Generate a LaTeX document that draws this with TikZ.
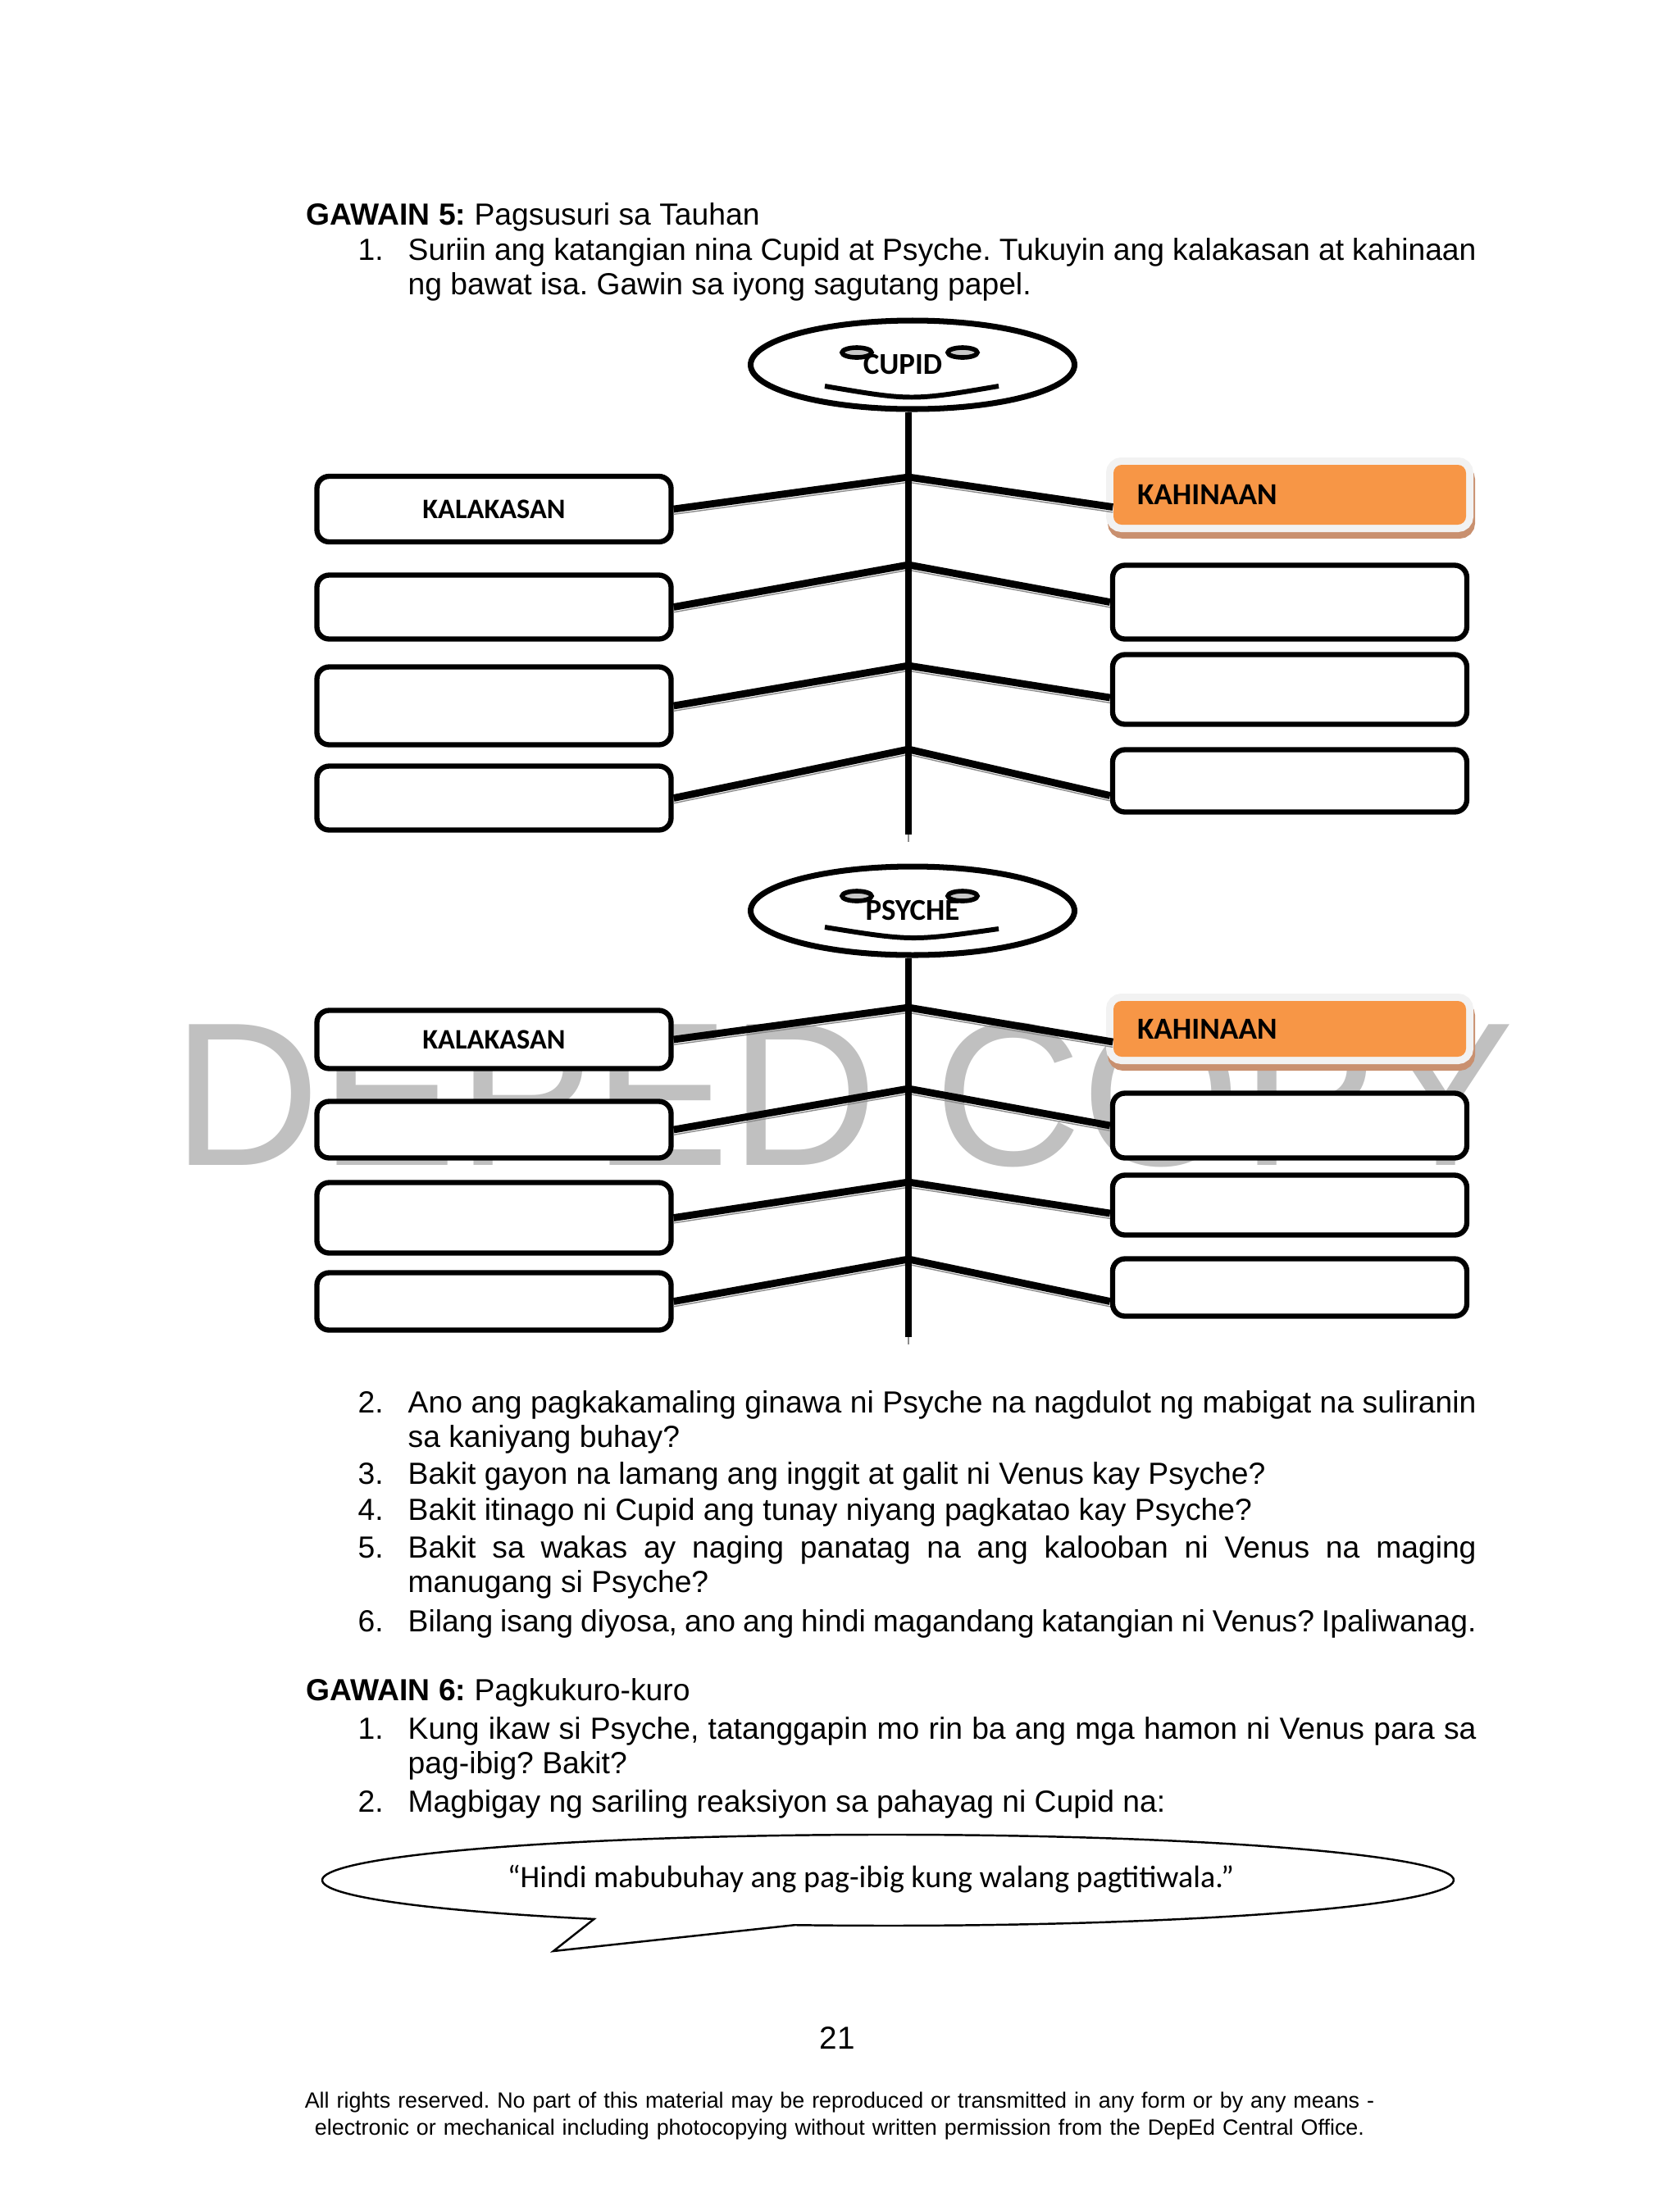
\documentclass[tikz,border=0pt]{standalone}
\usepackage{fontspec}
\setmainfont{Liberation Sans}
\newfontfamily\calibri{Carlito}
\usetikzlibrary{shapes.geometric,shadows,backgrounds}
\frenchspacing

\definecolor{weakorange}{RGB}{247,150,70}
\definecolor{glowgray}{RGB}{242,242,242}
\definecolor{shadowtan}{RGB}{201,144,111}
\definecolor{markgray}{RGB}{192,192,192}
\definecolor{eyegray}{RGB}{200,200,200}
\definecolor{linegray}{RGB}{140,140,140}

\begin{document}
\begin{tikzpicture}[
body/.style={font=\fontsize{10.6}{12.2}\selectfont, text width=13.03cm,
  align=justify, anchor=base west, inner sep=0pt},
plain/.style={font=\fontsize{10.6}{12.2}\selectfont, anchor=base west, inner sep=0pt},
face/.style={ellipse, draw, line width=2pt, minimum width=3.95cm,
  minimum height=1.08cm, inner sep=0pt,
  font=\calibri\bfseries\fontsize{10.5}{12}\selectfont},
eye/.style={ellipse, draw, line width=1.6pt, fill=eyegray,
  minimum width=0.36cm, minimum height=0.12cm, inner sep=0pt},
smile/.style={line width=1.7pt},
stem/.style={line width=2.5pt,
  preaction={draw=linegray, transform canvas={yshift=-2.5pt}}},
branch/.style={line width=2.5pt,
  preaction={draw=linegray, transform canvas={yshift=-1.8pt}}},
fieldbox/.style={draw, line width=1.8pt, rounded corners=0.15cm, fill=white,
  minimum width=4.32cm, inner sep=0pt,
  font=\calibri\bfseries\fontsize{9.8}{11}\selectfont},
weakbox/.style={fill=weakorange, rounded corners=0.1cm, text width=3.72cm,
  align=left, inner xsep=0.29cm, inner ysep=0pt,
  font=\calibri\bfseries\fontsize{10.6}{12}\selectfont,
  drop shadow={shadow xshift=0.02cm, shadow yshift=-0.08cm, fill=shadowtan,
    draw=shadowtan, line width=0.18cm, opacity=1},
  preaction={draw=glowgray, line width=0.18cm}}
]
\useasboundingbox (0,0) rectangle (20.48,-26.69);

% gawain 5
\node[plain] (gawain5) at (3.73,-2.74) {\textbf{GAWAIN 5:} Pagsusuri sa Tauhan};
\node[plain] (n1) at (4.36,-3.17) {1.};
\node[body] (q1) at (4.97,-3.17) {Suriin ang katangian nina Cupid at Psyche. Tukuyin ang kalakasan at kahinaan\linebreak
ng bawat isa. Gawin sa iyong sagutang papel.};

% cupid
\node[face] (cupid) at (11.13,-4.45) {CUPID\hspace*{0.24cm}};
\node[eye] (cupideyeL) at (10.45,-4.30) {};
\node[eye] (cupideyeR) at (11.74,-4.30) {};
\draw[smile] (10.06,-4.71) .. controls (11.12,-4.89) .. (12.18,-4.71);
\coordinate (cj1) at (11.08,-5.82);
\coordinate (cj2) at (11.08,-6.89);
\coordinate (cj3) at (11.08,-8.12);
\coordinate (cj4) at (11.08,-9.14);
\coordinate (cupbot) at (11.08,-10.18);

\node[fieldbox, minimum height=0.80cm] (cupL1) at (6.025,-6.21) {KALAKASAN};
\node[fieldbox, minimum height=0.78cm] (cupL2) at (6.025,-7.405) {};
\node[fieldbox, minimum height=0.95cm] (cupL3) at (6.025,-8.61) {};
\node[fieldbox, minimum height=0.78cm] (cupL4) at (6.025,-9.735) {};
\node[weakbox, minimum height=0.73cm] (cupR1) at (15.73,-6.035) {KAHINAAN};
\node[fieldbox, minimum height=0.90cm] (cupR2) at (15.73,-7.345) {};
\node[fieldbox, minimum height=0.85cm] (cupR3) at (15.73,-8.41) {};
\node[fieldbox, minimum height=0.76cm] (cupR4) at (15.73,-9.525) {};

\draw[branch] (cupL1.east) -- (cj1) -- ([yshift=-0.15cm]cupR1.west);
\draw[branch] (cupL2.east) -- (cj2) -- (cupR2.west);
\draw[branch] (cupL3.east) -- (cj3) -- ([yshift=-0.1cm]cupR3.west);
\draw[branch] (cupL4.east) -- (cj4) -- ([yshift=-0.18cm]cupR4.west);
\draw[stem] (cupbot |- cupid.south) -- (cupbot);

% psyche
\node[face] (psyche) at (11.13,-11.11) {PSYCHE};
\node[eye] (psycheeyeL) at (10.45,-10.93) {};
\node[eye] (psycheeyeR) at (11.74,-10.93) {};
\draw[smile] (10.06,-11.31) .. controls (11.12,-11.48) .. (12.18,-11.33);
\coordinate (pj1) at (11.08,-12.29);
\coordinate (pj2) at (11.08,-13.28);
\coordinate (pj3) at (11.08,-14.42);
\coordinate (pj4) at (11.08,-15.36);
\coordinate (psybot) at (11.08,-16.31);

\node[fieldbox, minimum height=0.71cm] (psyL1) at (6.025,-12.68) {KALAKASAN};
\node[fieldbox, minimum height=0.69cm] (psyL2) at (6.025,-13.78) {};
\node[fieldbox, minimum height=0.86cm] (psyL3) at (6.025,-14.855) {};
\node[fieldbox, minimum height=0.70cm] (psyL4) at (6.025,-15.875) {};
\node[weakbox, minimum height=0.68cm] (psyR1) at (15.73,-12.55) {KAHINAAN};
\node[fieldbox, minimum height=0.79cm] (psyR2) at (15.73,-13.73) {};
\node[fieldbox, minimum height=0.73cm] (psyR3) at (15.73,-14.70) {};
\node[fieldbox, minimum height=0.70cm] (psyR4) at (15.73,-15.705) {};

\draw[branch] (psyL1.east) -- (pj1) -- ([yshift=-0.16cm]psyR1.west);
\draw[branch] (psyL2.east) -- (pj2) -- (psyR2.west);
\draw[branch] (psyL3.east) -- (pj3) -- ([yshift=-0.1cm]psyR3.west);
\draw[branch] (psyL4.east) -- (pj4) -- ([yshift=-0.17cm]psyR4.west);
\draw[stem] (psybot |- psyche.south) -- (psybot);

\begin{scope}[on background layer]
\fill[white] (0,0) rectangle (20.48,-26.69);
\node[anchor=base west, inner sep=0pt, text=markgray,
  font=\fontsize{71}{71}\selectfont] (watermark) at (2.10,-14.21) {DEPED COPY};
\end{scope}

% questions
\node[plain] (n2) at (4.36,-17.23) {2.};
\node[body] (q2) at (4.97,-17.23) {Ano ang pagkakamaling ginawa ni Psyche na nagdulot ng mabigat na suliranin\linebreak
sa kaniyang buhay?};
\node[plain] (n3) at (4.36,-18.10) {3.};
\node[body] (q3) at (4.97,-18.10) {Bakit gayon na lamang ang inggit at galit ni Venus kay Psyche?};
\node[plain] (n4) at (4.36,-18.54) {4.};
\node[body] (q4) at (4.97,-18.54) {Bakit itinago ni Cupid ang tunay niyang pagkatao kay Psyche?};
\node[plain] (n5) at (4.36,-19.00) {5.};
\node[body] (q5) at (4.97,-19.00) {Bakit sa wakas ay naging panatag na ang kalooban ni Venus na maging\linebreak
manugang si Psyche?};
\node[plain] (n6) at (4.36,-19.90) {6.};
\node[body] (q6) at (4.97,-19.90) {\parfillskip=0pt Bilang isang diyosa, ano ang hindi magandang katangian ni Venus? Ipaliwanag.};

% gawain 6
\node[plain] (gawain6) at (3.73,-20.74) {\textbf{GAWAIN 6:} Pagkukuro-kuro};
\node[plain] (m1) at (4.36,-21.21) {1.};
\node[body] (r1) at (4.97,-21.21) {Kung ikaw si Psyche, tatanggapin mo rin ba ang mga hamon ni Venus para sa\linebreak
pag-ibig? Bakit?};
\node[plain] (m2) at (4.36,-22.10) {2.};
\node[body] (r2) at (4.97,-22.10) {Magbigay ng sariling reaksiyon sa pahayag ni Cupid na:};

% speech bubble
\coordinate (bubB) at (9.691,-23.482);
\coordinate (bubtip) at (6.75,-23.80);
\draw[line width=0.7pt] (bubB) arc[start angle=260.5, end angle=598.7,
  x radius=6.90cm, y radius=0.555cm] -- (bubtip) -- cycle;
\node[anchor=base, inner sep=0pt, font=\calibri\fontsize{10.8}{13}\selectfont]
  (quote) at (10.62,-23.02) {“Hindi mabubuhay ang pag-ibig kung walang pagtitiwala.”};

% page number and footer
\node[anchor=base, inner sep=0pt, font=\fontsize{11}{13}\selectfont] (pagenum) at (10.21,-24.99) {21};
\node[anchor=base, inner sep=0pt, text width=17cm, align=center,
  font=\fontsize{7.65}{9.6}\selectfont] (footer) at (10.24,-25.71)
  {All rights reserved. No part of this material may be reproduced or transmitted in any form or by any means -\\
  electronic or mechanical including photocopying without written permission from the DepEd Central Office.};
\end{tikzpicture}
\end{document}
